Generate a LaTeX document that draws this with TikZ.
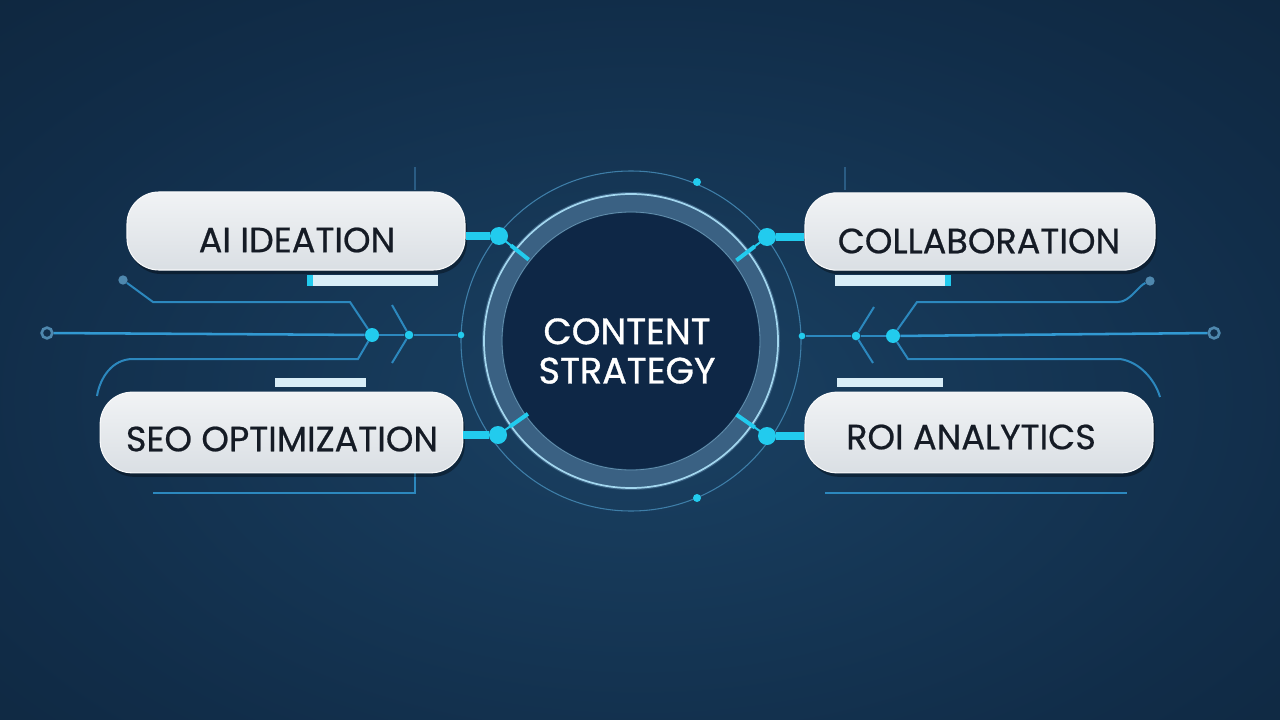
\documentclass[tikz,border=0pt]{standalone}
\usepackage{fontspec}
\newfontfamily\popfont{Poppins}[FakeBold=0.6]
\newfontfamily\popcore{Poppins}[FakeBold=0.9]
\usetikzlibrary{calc}
\definecolor{bgin}{HTML}{1A4163}
\definecolor{bgmid}{HTML}{112D49}
\definecolor{bgout}{HTML}{08131F}
\definecolor{cyanc}{HTML}{22CBEE}
\definecolor{wire}{HTML}{2C88BE}
\definecolor{wiremain}{HTML}{3299D2}
\definecolor{ringband}{HTML}{3A6183}
\definecolor{ringline}{HTML}{A2D6EE}
\definecolor{thinc}{HTML}{3E7EA8}
\definecolor{disc}{HTML}{0E2746}
\definecolor{boxtop}{HTML}{F1F3F5}
\definecolor{boxbot}{HTML}{DADFE4}
\definecolor{boxtext}{HTML}{151B25}
\definecolor{barc}{HTML}{D8EDF7}
\definecolor{faint}{HTML}{2A5C84}
\definecolor{steel}{HTML}{4F88AE}
\pgfdeclareradialshading{bgshade}{\pgfpoint{0bp}{0bp}}{color(0bp)=(bgin); color(18bp)=(bgmid); color(50bp)=(bgout)}
\begin{document}
\begin{tikzpicture}[x=0.75pt,y=-0.75pt,
  pill/.style={rectangle, rounded corners=24pt, top color=boxtop, bottom color=boxbot,
    draw=white!80!boxbot, line width=0.8pt,
    preaction={fill=black, opacity=0.35, transform canvas={xshift=1.5pt,yshift=-3pt}}},
  pilltext/.style={font=\popfont\fontsize{26.3}{30}\selectfont, text=boxtext, inner sep=0pt},
  cdot/.style={circle, fill=cyanc, inner sep=0pt, minimum size=13.5pt},
  bigdot/.style={circle, fill=cyanc, inner sep=0pt, minimum size=10.5pt},
  smalldot/.style={circle, fill=cyanc, inner sep=0pt, minimum size=6.5pt},
  tinydot/.style={circle, fill=cyanc, inner sep=0pt, minimum size=5pt},
  enddot/.style={circle, fill=steel, inner sep=0pt, minimum size=7pt},
  ringdot/.style={circle, draw=steel, line width=2pt, inner sep=0pt, minimum size=8pt},
  stub/.style={cyanc, line width=5.5pt},
  spoke/.style={cyanc, line width=1.5pt},
  tick/.style={cyanc, line width=3pt},
  wireline/.style={wire, line width=1.5pt},
  mainline/.style={wiremain, line width=1.9pt},
  faintline/.style={faint, line width=1pt},
  bar/.style={fill=barc}
]
\useasboundingbox (0,0) rectangle (1280,720);
\clip (0,0) rectangle (1280,720);
\shade[shading=bgshade] (-300,-160) rectangle (1580,960);

% ---------- central hub ----------
\node[circle, fill=disc, inner sep=0pt, minimum size=192pt] (core) at (631,341) {};
\draw[ringband, line width=15pt] (core.center) circle [radius=139];
\draw[ringline, line width=1.3pt] (core.center) circle [radius=147];
\draw[ringline!40!ringband, line width=0.6pt] (core.center) circle [radius=129];
\draw[thinc, line width=0.8pt] (core.center) circle [radius=170];
\node[text=white, align=center, font=\popcore\fontsize{27.5}{29.5}\selectfont, inner sep=0pt] (ctext) at (627,351) {CONTENT\\STRATEGY};
\node[tinydot, minimum size=6pt] (topdot) at (697,182) {};
\node[tinydot, minimum size=6pt] (botdot) at (697,498) {};

% ---------- faint decorative lines ----------
\coordinate (fa1) at (415,167); \coordinate (fa2) at (415,190);
\coordinate (fb1) at (845,167); \coordinate (fb2) at (845,190);
\draw[faintline] (fa1) -- (fa2);
\draw[faintline] (fb1) -- (fb2);
\coordinate (sL1) at (415,470); \coordinate (sL2) at (153,493);
\draw[wireline, line width=1.2pt] (sL1) |- (sL2);
\coordinate (rL1) at (825,493); \coordinate (rL2) at (1127,493);
\draw[wireline, line width=1.2pt] (rL1) -- (rL2);

% ---------- left circuit ----------
\node[ringdot] (lring) at (47,333) {};
\node[bigdot] (lbig) at (372,335) {};
\node[smalldot] (lsmall) at (409,335) {};
\node[tinydot] (ltiny) at (461,335) {};
\node[enddot] (lup) at (123,280) {};
\coordinate (lchevA) at (392,305); \coordinate (lchevB) at (392,363);
\coordinate (lcurve) at (97,396);
\draw[mainline] (lring) -- (lbig);
\draw[wireline] (lbig) -- (lsmall) -- (ltiny);
\draw[wireline] (lup) -- (153,302) -- (350,302) -- (lbig);
\draw[wireline] (lbig) -- (358,359) -- (133,359) .. controls (112,359) and (100,378) .. (lcurve);
\draw[wireline] (lchevA) -- (lsmall) -- (lchevB);

% ---------- right circuit ----------
\node[ringdot] (rring) at (1214,333) {};
\node[bigdot] (rbig) at (893,336) {};
\node[smalldot] (rsmall) at (856,336) {};
\node[tinydot] (rtiny) at (802,336) {};
\node[enddot] (rup) at (1150,281) {};
\coordinate (rchevA) at (874,307); \coordinate (rchevB) at (873,363);
\coordinate (rcurve) at (1160,397);
\draw[mainline] (rbig) -- (rring);
\draw[wireline] (rtiny) -- (rsmall) -- (rbig);
\draw[wireline] (rbig) -- (917,302) -- (1118,302) .. controls (1130,302) and (1138,286) .. (rup);
\draw[wireline] (rbig) -- (908,359) -- (1120,359) .. controls (1140,362) and (1155,380) .. (rcurve);
\draw[wireline] (rchevA) -- (rsmall) -- (rchevB);

% ---------- connector dots and spokes ----------
\node[cdot] (aidot) at (499,236) {};
\node[cdot] (coldot) at (767,237) {};
\node[cdot] (seodot) at (498,435) {};
\node[cdot] (roidot) at (767,436) {};
\foreach \d in {aidot,coldot,seodot,roidot}{
  \draw[spoke] (\d.center) -- ($(\d.center)!0.10!(core.center)$);
  \draw[tick] ($(\d.center)!0.09!(core.center)$) -- ($(\d.center)!0.225!(core.center)$);
}

% ---------- boxes ----------
\node[pill, minimum width=253.5pt, minimum height=58.5pt] (ai) at (296,231) {};
\node[pill, minimum width=262.5pt, minimum height=58pt] (col) at (980,231.5) {};
\node[pill, minimum width=272pt, minimum height=60.5pt] (seo) at (281.5,432.5) {};
\node[pill, minimum width=261pt, minimum height=60.5pt] (roi) at (979,432.5) {};
\draw[stub] (ai.east |- aidot) -- (aidot);
\draw[stub] (col.west |- coldot) -- (coldot);
\draw[stub] (seo.east |- seodot) -- (seodot);
\draw[stub] (roi.west |- roidot) -- (roidot);
\node[pilltext] (aiT) at (297,240) {AI IDEATION};
\node[pilltext] (colT) at (979,241) {COLLABORATION};
\node[pilltext] (seoT) at (282,439) {SEO OPTIMIZATION};
\node[pilltext] (roiT) at (971,437) {ROI ANALYTICS};

% ---------- accent bars ----------
\fill[bar] (307,275) rectangle (438,286);
\fill[cyanc] (307,275) rectangle (313,286);
\fill[bar] (275,378) rectangle (366,387);
\fill[bar] (835,275) rectangle (951,286);
\fill[cyanc] (945,275) rectangle (951,286);
\fill[bar] (837,378) rectangle (943,387);
\end{tikzpicture}
\end{document}
